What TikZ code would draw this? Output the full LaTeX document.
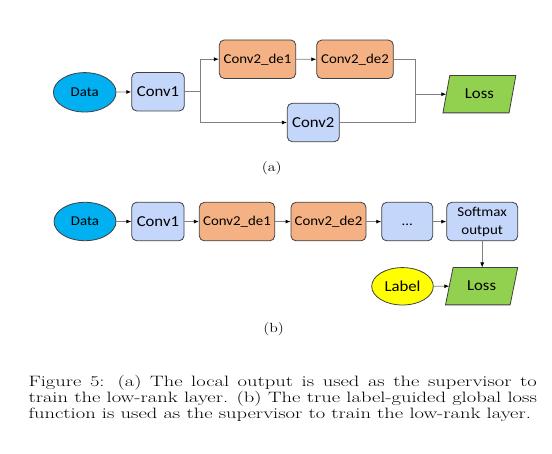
\documentclass[tikz,border=0pt]{standalone}
\usepackage{fontspec}
\usepackage{graphicx}
\usetikzlibrary{arrows.meta,backgrounds,shapes.geometric}
\newfontfamily\carl{Carlito}
\definecolor{dblue}{HTML}{00B0F0}
\definecolor{lblue}{HTML}{C5D6FB}
\definecolor{salmon}{HTML}{F4B183}
\definecolor{lgreen}{HTML}{92D050}
\definecolor{yel}{HTML}{FFFF00}
\definecolor{edgec}{HTML}{404040}
\definecolor{connc}{HTML}{808080}
\newcommand\hs[1]{\scalebox{1.1}[1]{#1}}
\newcommand\capfont{\fontsize{15}{16}\selectfont}
\newlength\capw
\tikzset{
  shp/.style={draw=edgec, line width=0.8pt, inner sep=0pt},
  box/.style={shp, rounded corners=5pt, minimum height=38.5pt},
  ell/.style={shp, ellipse},
  fbig/.style={font=\carl\fontsize{15.2}{18}\selectfont, text height=9.6pt, text depth=0pt},
  fsmall/.style={font=\carl\fontsize{13.5}{18}\selectfont, text height=8.5pt, text depth=0pt},
  conn/.style={draw=connc, line width=0.8pt},
  arr/.style={conn, -{Latex[length=5pt,width=4pt,color=black]}},
  lossbox/.style={minimum width=#1, minimum height=37pt, inner sep=0pt, fbig},
}
\begin{document}
\settowidth\capw{\capfont function is used as the supervisor to train the low-rank layer.}%
\pgfmathsetmacro\capsx{502.4/\capw}%
\pgfmathsetmacro\capinner{508.4/\capsx}%
\begin{tikzpicture}[x=1pt,y=-1pt]
\useasboundingbox (0,0) rectangle (552,454);
\begin{scope}[on background layer]
\fill[white] (0,0) rectangle (552,454);
\end{scope}

% ---------- (a) ----------
\node[ell, fill=dblue, minimum width=62.6pt, minimum height=39.4pt, fsmall] (da) at (84.7,92.3) {\hs{Data}};
\node[box, fill=lblue, minimum width=52.6pt, fbig] (c1a) at (158,91.7) {\hs{Conv1}};
\node[box, fill=salmon, minimum width=76.4pt, fsmall] (d1a) at (257.5,59.2) {\hs{Conv2\_de1}};
\node[box, fill=salmon, minimum width=76.6pt, fsmall] (d2a) at (355,59.3) {\hs{Conv2\_de2}};
\node[box, fill=lblue, minimum width=52pt, fbig] (c2a) at (313.3,122.5) {\hs{Conv2}};
\node[lossbox=65.7pt] (lsa) at (479.4,94.2) {\hs{Loss}};
\begin{scope}[on background layer]
\draw[shp, fill=lgreen] ([xshift=3.4pt]lsa.north west) -- ([xshift=3.4pt]lsa.north east) -- ([xshift=-3.4pt]lsa.south east) -- ([xshift=-3.4pt]lsa.south west) -- cycle;
\end{scope}
\coordinate (j1) at (200,91.7);
\coordinate (j2) at (415.7,94.2);
\draw[arr] (da) -- (c1a);
\draw[conn] (c1a.east) -- (j1);
\draw[arr] (j1) |- (d1a.west);
\draw[arr] (j1) |- (c2a.west);
\draw[arr] (d1a) -- (d2a);
\draw[conn] (d2a.east) -| (j2);
\draw[conn] (c2a.east) -| (j2);
\draw[arr] (j2) -- (lsa.west);
\node[anchor=base, inner sep=0pt, font=\fontsize{13.3}{16}\selectfont] (la) at (271.7,171.7) {\scalebox{1.18}[1]{(a)}};

% ---------- (b) ----------
\node[ell, fill=dblue, minimum width=62pt, minimum height=38.4pt, fsmall] (db) at (85,221.5) {\hs{Data}};
\node[box, fill=lblue, minimum width=52.3pt, fbig] (c1b) at (157.9,221.5) {\hs{Conv1}};
\node[box, fill=salmon, minimum width=75.4pt, fsmall] (d1b) at (237,221.6) {\hs{Conv2\_de1}};
\node[box, fill=salmon, minimum width=75pt, fsmall] (d2b) at (328.5,221.6) {\hs{Conv2\_de2}};
\node[box, fill=lblue, minimum width=51pt, fsmall] (dots) at (407.2,221.6) {\hs{...}};
\node[box, fill=lblue, minimum width=71pt, align=center, font=\carl\fontsize{13.6}{18}\selectfont] (sm) at (482.2,221.6) {\hs{Softmax}\\\hs{output}};
\node[lossbox=64.2pt] (lsb) at (481.6,286.2) {\hs{Loss}};
\begin{scope}[on background layer]
\draw[shp, fill=lgreen] ([xshift=3.8pt]lsb.north west) -- ([xshift=3.8pt]lsb.north east) -- ([xshift=-3.8pt]lsb.south east) -- ([xshift=-3.8pt]lsb.south west) -- cycle;
\end{scope}
\node[ell, fill=yel, minimum width=61.6pt, minimum height=37.4pt, fbig] (lab) at (402.5,286.3) {\hs{Label}};
\draw[arr] (db) -- (c1b);
\draw[arr] (c1b) -- (d1b);
\draw[arr] (d1b) -- (d2b);
\draw[arr] (d2b) -- (dots);
\draw[arr] (dots) -- (sm);
\draw[arr] (sm.south) -- (sm.south |- lsb.north);
\draw[arr] (lab.east) -- (lsb.west);
\node[anchor=base, inner sep=0pt, font=\fontsize{13.3}{16}\selectfont] (lb) at (273.7,332.7) {\scalebox{1.18}[1]{(b)}};

% ---------- caption ----------
\node[anchor=base west, inner sep=0pt, font=\capfont] (cap1) at (28.3,387) {\scalebox{\capsx}[1]{\makebox[\capinner pt][s]{Figure 5: (a) The local output is used as the supervisor to}}};
\node[anchor=base west, inner sep=0pt, font=\capfont] (cap2) at (28.3,402.6) {\scalebox{\capsx}[1]{\makebox[\capinner pt][s]{train the low-rank layer. (b) The true label-guided global loss}}};
\node[anchor=base west, inner sep=0pt, font=\capfont] (cap3) at (28.3,418.2) {\scalebox{\capsx}[1]{function is used as the supervisor to train the low-rank layer.}};
\end{tikzpicture}
\end{document}
